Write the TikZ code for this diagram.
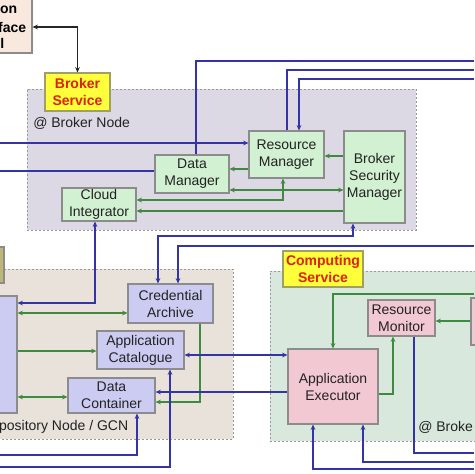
\documentclass[tikz,border=0pt]{standalone}
\usepackage{fontspec}
\setmainfont{Liberation Sans}
\usetikzlibrary{arrows.meta}
\definecolor{bline}{HTML}{3434A8}
\definecolor{gline}{HTML}{3E8A3E}
\definecolor{boxborder}{HTML}{8C8C8C}
\definecolor{gfill}{HTML}{D2F0D2}
\definecolor{lfill}{HTML}{CCCCF2}
\definecolor{pfill}{HTML}{F2C8D2}
\definecolor{yfill}{HTML}{FFFF3C}
\definecolor{yborder}{HTML}{A0A060}
\definecolor{stext}{HTML}{DD2200}
\definecolor{txt}{HTML}{222222}
\definecolor{regborder}{HTML}{999999}
\definecolor{brokfill}{HTML}{DCD8E4}
\definecolor{repofill}{HTML}{E8E2DA}
\definecolor{compfill}{HTML}{D8E8DC}
\definecolor{peach}{HTML}{F8E8DE}
\definecolor{olive}{HTML}{BDB676}
\tikzset{
  sz/.style 2 args={minimum width=#1*0.75pt, minimum height=#2*0.75pt},
  box/.style={draw=boxborder, line width=0.8pt, align=center, inner sep=0pt,
    font=\fontsize{10.5}{12.75}\selectfont, text=txt},
  gbox/.style={box, fill=gfill},
  lbox/.style={box, fill=lfill},
  pbox/.style={box, fill=pfill},
  ybox/.style={box, fill=yfill, draw=yborder,
    font=\bfseries\fontsize{10.5}{12.75}\selectfont, text=stext},
  region/.style={draw=regborder, dash pattern=on 1.5pt off 1.5pt, line width=0.6pt, inner sep=0pt},
  lbl/.style={inner sep=0pt, font=\fontsize{10.5}{12.75}\selectfont, text=txt},
  blbl/.style={inner sep=0pt, font=\bfseries\fontsize{10.5}{12.75}\selectfont, text=black},
  bl/.style={draw=bline, line width=1.1pt},
  gl/.style={draw=gline, line width=1.1pt},
  blk/.style={draw=black!85, line width=0.8pt},
  >={Stealth[length=4pt,width=3.5pt]}
}
\begin{document}
\begin{tikzpicture}[x=0.75pt,y=-0.75pt]
\useasboundingbox (0,0) rectangle (474,474);
\fill[white] (0,0) rectangle (474,474);

% regions
\node[region, fill=brokfill, sz={389}{141}] (brokreg) at (221.5,159.5) {};
\node[region, fill=repofill, sz={243}{170}] (reporeg) at (111.5,354) {};
\node[region, fill=compfill, sz={220}{170}] (compreg) at (380,356) {};

% top-left tool box
\node[box, fill=peach, sz={42}{63}] (apptool) at (11,21.5) {};
\node[blbl, anchor=east] (t1) at (17.5,10) {on};
\node[blbl, anchor=east] (t2) at (26.5,27) {face};
\node[blbl, anchor=east] (t3) at (4.5,43) {l};

% broker node
\node[ybox, sz={65}{38}] (bs) at (77.5,92) {Broker\\Service};
\node[lbl, anchor=west] (bnlbl) at (33,123) {@ Broker Node};
\node[gbox, sz={75}{47}] (rm) at (286.5,154.5) {Resource\\Manager};
\node[gbox, sz={74}{38}] (dm) at (192,174) {Data\\Manager};
\node[gbox, sz={61}{92}] (bsm) at (374.5,177) {Broker\\Security\\Manager};
\node[gbox, sz={74}{33}] (ci) at (99,204.5) {Cloud\\Integrator};

% repository node
\node[box, fill=olive, sz={14}{36}] (repsvc) at (-3,265) {};
\node[lbox, sz={27}{117}] (lb) at (3.5,354.5) {};
\node[lbox, sz={85}{39}] (ca) at (170.5,303.5) {Credential\\Archive};
\node[lbox, sz={87}{38}] (ac) at (140.5,350) {Application\\Catalogue};
\node[lbox, sz={87}{35}] (dc) at (111.5,395.5) {Data\\Container};
\node[lbl, anchor=east] (rnlbl) at (128.5,427) {pository Node / GCN};

% computing node
\node[ybox, sz={80}{36}] (cs) at (323,269) {Computing\\Service};
\node[pbox, sz={67}{36}] (rmon) at (401.5,318) {Resource\\Monitor};
\node[pbox, sz={90}{75}] (ae) at (333,386.5) {Application\\Executor};
\node[pbox, sz={30}{47}] (rbox) at (486,321.5) {};
\node[lbl, anchor=west] (cnlbl) at (418,427) {@ Broke};

% free ends at the picture edge
\coordinate (eA) at (0,143);
\coordinate (eB) at (0,171);
\coordinate (eC) at (474,61);
\coordinate (eD) at (474,70);
\coordinate (eE) at (474,79);
\coordinate (eF) at (474,246);
\coordinate (eG) at (0,455);
\coordinate (eH) at (0,467);
\coordinate (eI) at (474,294);
\coordinate (eK) at (474,453);
\coordinate (eL) at (474,462);
\coordinate (eM) at (474,469);

% black
\draw[blk,<->] (apptool.east |- 0,27) -| (bs.north);

% broker connectors
\draw[bl,->] (eA) -- (eA -| rm.west);
\draw[bl] (eB) -- (eB -| dm.west);
\draw[bl] (dm.north -| 196,0) |- (eC);
\draw[bl] (rm.north -| 287,0) |- (eD);
\draw[bl,->] (eE) -| (rm.north -| 299,0);
\draw[gl,->] (rm.west |- 0,169) -- (dm.east |- 0,169);
\draw[gl,->] (bsm.west |- 0,156) -- (rm.east |- 0,156);
\draw[gl,<->] (dm.east |- 0,190) -- (bsm.west |- 0,190);
\draw[gl,<->] (ci.east |- 0,200) -| (rm.south -| 283,0);
\draw[gl,->] (bsm.west |- 0,211) -- (ci.east |- 0,211);
\draw[bl,<->] (ci.south -| 95,0) |- (lb.east |- 0,303);
\draw[bl,<->] (bsm.south -| 353,0) |- (158,236) -- (ca.north -| 158,0);
\draw[bl,->] (eF) -| (ca.north -| 178,0);

% repository connectors
\draw[gl,<->] (lb.east |- 0,313) -- (ca.west |- 0,313);
\draw[gl,->] (lb.east |- 0,351) -- (ac.west |- 0,351);
\draw[gl,<->] (lb.east |- 0,397) -- (dc.west |- 0,397);
\draw[gl,->] (ca.south -| 200,0) |- (dc.east |- 0,402);
\draw[bl,<->] (ae.west |- 0,355) -- (ac.east |- 0,355);
\draw[bl,->] (ae.west |- 0,392) -- (dc.east |- 0,392);
\draw[bl,->] (eG) -| (dc.south -| 137,0);
\draw[bl,->] (eH) -| (ac.south -| 170,0);

% computing connectors
\draw[gl,->] (eI) -| (ae.north -| 333,0);
\draw[gl,->] (ae.east |- 0,394) -| (rmon.south -| 393,0);
\draw[gl,->] (rbox.west |- 0,321) -- (rmon.east |- 0,321);
\draw[bl] (rmon.south -| 414,0) |- (eK);
\draw[bl,->] (eL) -| (ae.south -| 363,0);
\draw[bl,->] (eM) -| (ae.south -| 313,0);
\end{tikzpicture}
\end{document}
